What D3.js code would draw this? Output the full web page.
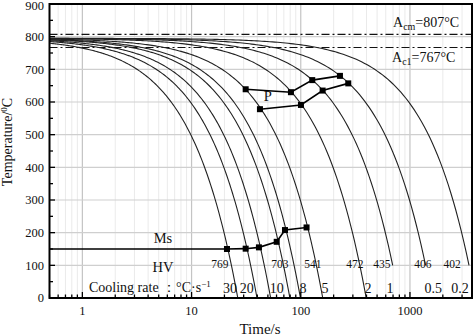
<!DOCTYPE html>
<html><head><meta charset="utf-8">
<script src="https://cdn.jsdelivr.net/npm/d3@7"></script>
<style>body{margin:0;background:#fff}svg{display:block}text{font-family:"Liberation Serif","Times New Roman",serif;fill:#111}</style>
</head><body><svg id="c" width="474" height="336"></svg>
<script>
// ---- data ----
const coolingRates = [30, 20, 15, 10, 8, 5, 2, 1, 0.5, 0.2];     // °C/s
const curveEndTemp = [0, 0, 0, 0, 0, 0, 0, 100, 100, 100];
const startTemp = 795;
const msTime = [21.1, 31.3, 41.4, 60.2, 71.7, 113];
const msTemp = [150, 151, 155, 172, 208, 216];
const pStartTime = [31.3, 81.3, 127.4, 228.5];
const pStartTemp = [639, 630, 667, 680];
const pFinishTime = [42.3, 100.4, 158.6, 272.3];
const pFinishTemp = [578, 591, 635, 657];
const acm = 807, ac1 = 767;
const hvValues = ["769", "703", "541", "472", "435", "406", "402"];
const hvTime = [18.2, 64.5, 129.4, 313, 554, 1316, 2428];
const rateLabels = ["30", "20", "10", "8", "5", "2", "1", "0.5", "0.2"];
const rateLabelTime = [22.5, 32, 60.2, 104.7, 166.6, 413, 657, 1633, 2871];
const xTicks = [1, 10, 100, 1000];
const yTicks = [0, 100, 200, 300, 400, 500, 600, 700, 800, 900];

// ---- layout ----
const L = 49.5, R = 472, T = 4, B = 298;
const svg = d3.select("#c");
const x = d3.scaleLog().domain([0.5, 3700]).range([L, R]);
const y = d3.scaleLinear().domain([0, 900]).range([B, T]);

const defs = svg.append("defs");
defs.append("clipPath").attr("id", "clip").append("rect").attr("x", L).attr("y", T).attr("width", R - L).attr("height", B - T);

// grid
const minorX = [];
for (let d = 0.1; d < 10000; d *= 10) for (let k = 1; k < 10; k++) { const v = +(d * k).toPrecision(6); if (v >= 0.5 && v <= 3700) minorX.push(v); }
const g = svg.append("g");
g.selectAll(".vg").data(minorX).join("line")
  .attr("x1", d => x(d)).attr("x2", d => x(d)).attr("y1", T).attr("y2", B)
  .attr("stroke", d => xTicks.includes(d) ? "#c4c4c4" : "#e4e4e4").attr("stroke-width", d => xTicks.includes(d) ? 1.2 : 0.8);
g.selectAll(".hg").data(yTicks.slice(1, -1)).join("line")
  .attr("x1", L).attr("x2", R).attr("y1", d => y(d)).attr("y2", d => y(d))
  .attr("stroke", "#cfcfcf").attr("stroke-width", 1.2);

// critical temperature lines
svg.selectAll(".crit").data([acm, ac1]).join("line")
  .attr("x1", L).attr("x2", R).attr("y1", d => y(d)).attr("y2", d => y(d))
  .attr("stroke", "#111").attr("stroke-width", 1.1).attr("stroke-dasharray", "8,3,2,3");

// cooling curves
const pc = svg.append("g").attr("clip-path", "url(#clip)");
const line = d3.line().x(d => x(d[0])).y(d => y(d[1]));
coolingRates.forEach((r, i) => {
  const tEnd = Math.min((startTemp - curveEndTemp[i]) / r, 3700);
  const n = 160, pts = [];
  for (let j = 0; j <= n; j++) {
    const t = Math.exp(Math.log(0.5) + (Math.log(tEnd) - Math.log(0.5)) * j / n);
    pts.push([t, startTemp - r * t]);
  }
  pc.append("path").attr("d", line(pts)).attr("fill", "none").attr("stroke", "#222").attr("stroke-width", 1.1);
});

// Ms line
const msPts = [[0.5, msTemp[0]]].concat(msTime.map((t, i) => [t, msTemp[i]]));
svg.append("path").attr("d", line(msPts)).attr("fill", "none").attr("stroke", "#000").attr("stroke-width", 1.6);
svg.selectAll(".ms").data(msTime).join("rect")
  .attr("x", (d) => x(d) - 3).attr("y", (d, i) => y(msTemp[i]) - 3).attr("width", 6).attr("height", 6).attr("fill", "#000");

// P start / finish
[[pStartTime, pStartTemp], [pFinishTime, pFinishTemp]].forEach(([ts, vs]) => {
  svg.append("path").attr("d", line(ts.map((t, i) => [t, vs[i]]))).attr("fill", "none").attr("stroke", "#000").attr("stroke-width", 1.6);
  svg.append("g").selectAll("rect").data(ts).join("rect")
    .attr("x", d => x(d) - 3).attr("y", (d, i) => y(vs[i]) - 3).attr("width", 6).attr("height", 6).attr("fill", "#000");
});
svg.append("text").attr("x", x(50)).attr("y", y(578) - 8).attr("text-anchor", "middle").attr("font-size", 14.5).text("P");

// texts
const t1 = svg.append("text").attr("x", 393).attr("y", 27).attr("font-size", 14);
t1.append("tspan").text("A");
t1.append("tspan").attr("font-size", 10).attr("dy", 3).text("cm");
t1.append("tspan").attr("dy", -3).text("=807°C");
const t2 = svg.append("text").attr("x", 392).attr("y", 62).attr("font-size", 14);
t2.append("tspan").text("A");
t2.append("tspan").attr("font-size", 10).attr("dy", 3).text("c1");
t2.append("tspan").attr("dy", -3).text("=767°C");

svg.append("text").attr("x", 163).attr("y", 243).attr("text-anchor", "middle").attr("font-size", 14.5).text("Ms");
svg.append("text").attr("x", 163).attr("y", 272).attr("text-anchor", "middle").attr("font-size", 14.5).text("HV");
const cr = svg.append("text").attr("x", 89).attr("y", 292).attr("font-size", 14);
cr.append("tspan").text("Cooling rate ：°C·s");
cr.append("tspan").attr("font-size", 9).attr("dy", -5).text("−1");

svg.selectAll(".hv").data(hvValues).join("text")
  .attr("x", (d, i) => x(hvTime[i])).attr("y", 268).attr("text-anchor", "middle").attr("font-size", 11.5).text(d => d);
svg.selectAll(".rl").data(rateLabels).join("text")
  .attr("x", (d, i) => x(rateLabelTime[i])).attr("y", 293).attr("text-anchor", "middle").attr("font-size", 14).text(d => d);

// axes ticks (inward)
const ax = svg.append("g");
ax.selectAll(".xt").data(minorX).join("line")
  .attr("x1", d => x(d)).attr("x2", d => x(d)).attr("y1", B).attr("y2", d => B - (xTicks.includes(d) ? 6 : 3.5))
  .attr("stroke", "#000").attr("stroke-width", 1.3);
const yMinor = d3.range(0, 901, 50);
ax.selectAll(".yt").data(yMinor).join("line")
  .attr("x1", L).attr("x2", d => L + (d % 100 === 0 ? 5.5 : 3.5)).attr("y1", d => y(d)).attr("y2", d => y(d))
  .attr("stroke", "#000").attr("stroke-width", 1.3);
ax.selectAll(".xl").data(xTicks).join("text")
  .attr("x", d => x(d)).attr("y", 315).attr("text-anchor", "middle").attr("font-size", 12.5).text(d => d);
ax.selectAll(".yl").data(yTicks).join("text")
  .attr("x", 44).attr("y", d => Math.max(y(d) + 4.3, 10)).attr("text-anchor", "end").attr("font-size", 12.5).text(d => d);

// frame
svg.append("rect").attr("x", L).attr("y", T).attr("width", R - L).attr("height", B - T)
  .attr("fill", "none").attr("stroke", "#000").attr("stroke-width", 2);

// axis titles
svg.append("text").attr("x", 260).attr("y", 334).attr("text-anchor", "middle").attr("font-size", 15).text("Time/s");
const yt = svg.append("text").attr("transform", "translate(12,142) rotate(-90)").attr("text-anchor", "middle").attr("font-size", 14);
yt.append("tspan").text("Temperature/");
yt.append("tspan").attr("font-size", 9).attr("dy", -5).text("0");
yt.append("tspan").attr("dy", 5).text("C");
</script></body></html>
